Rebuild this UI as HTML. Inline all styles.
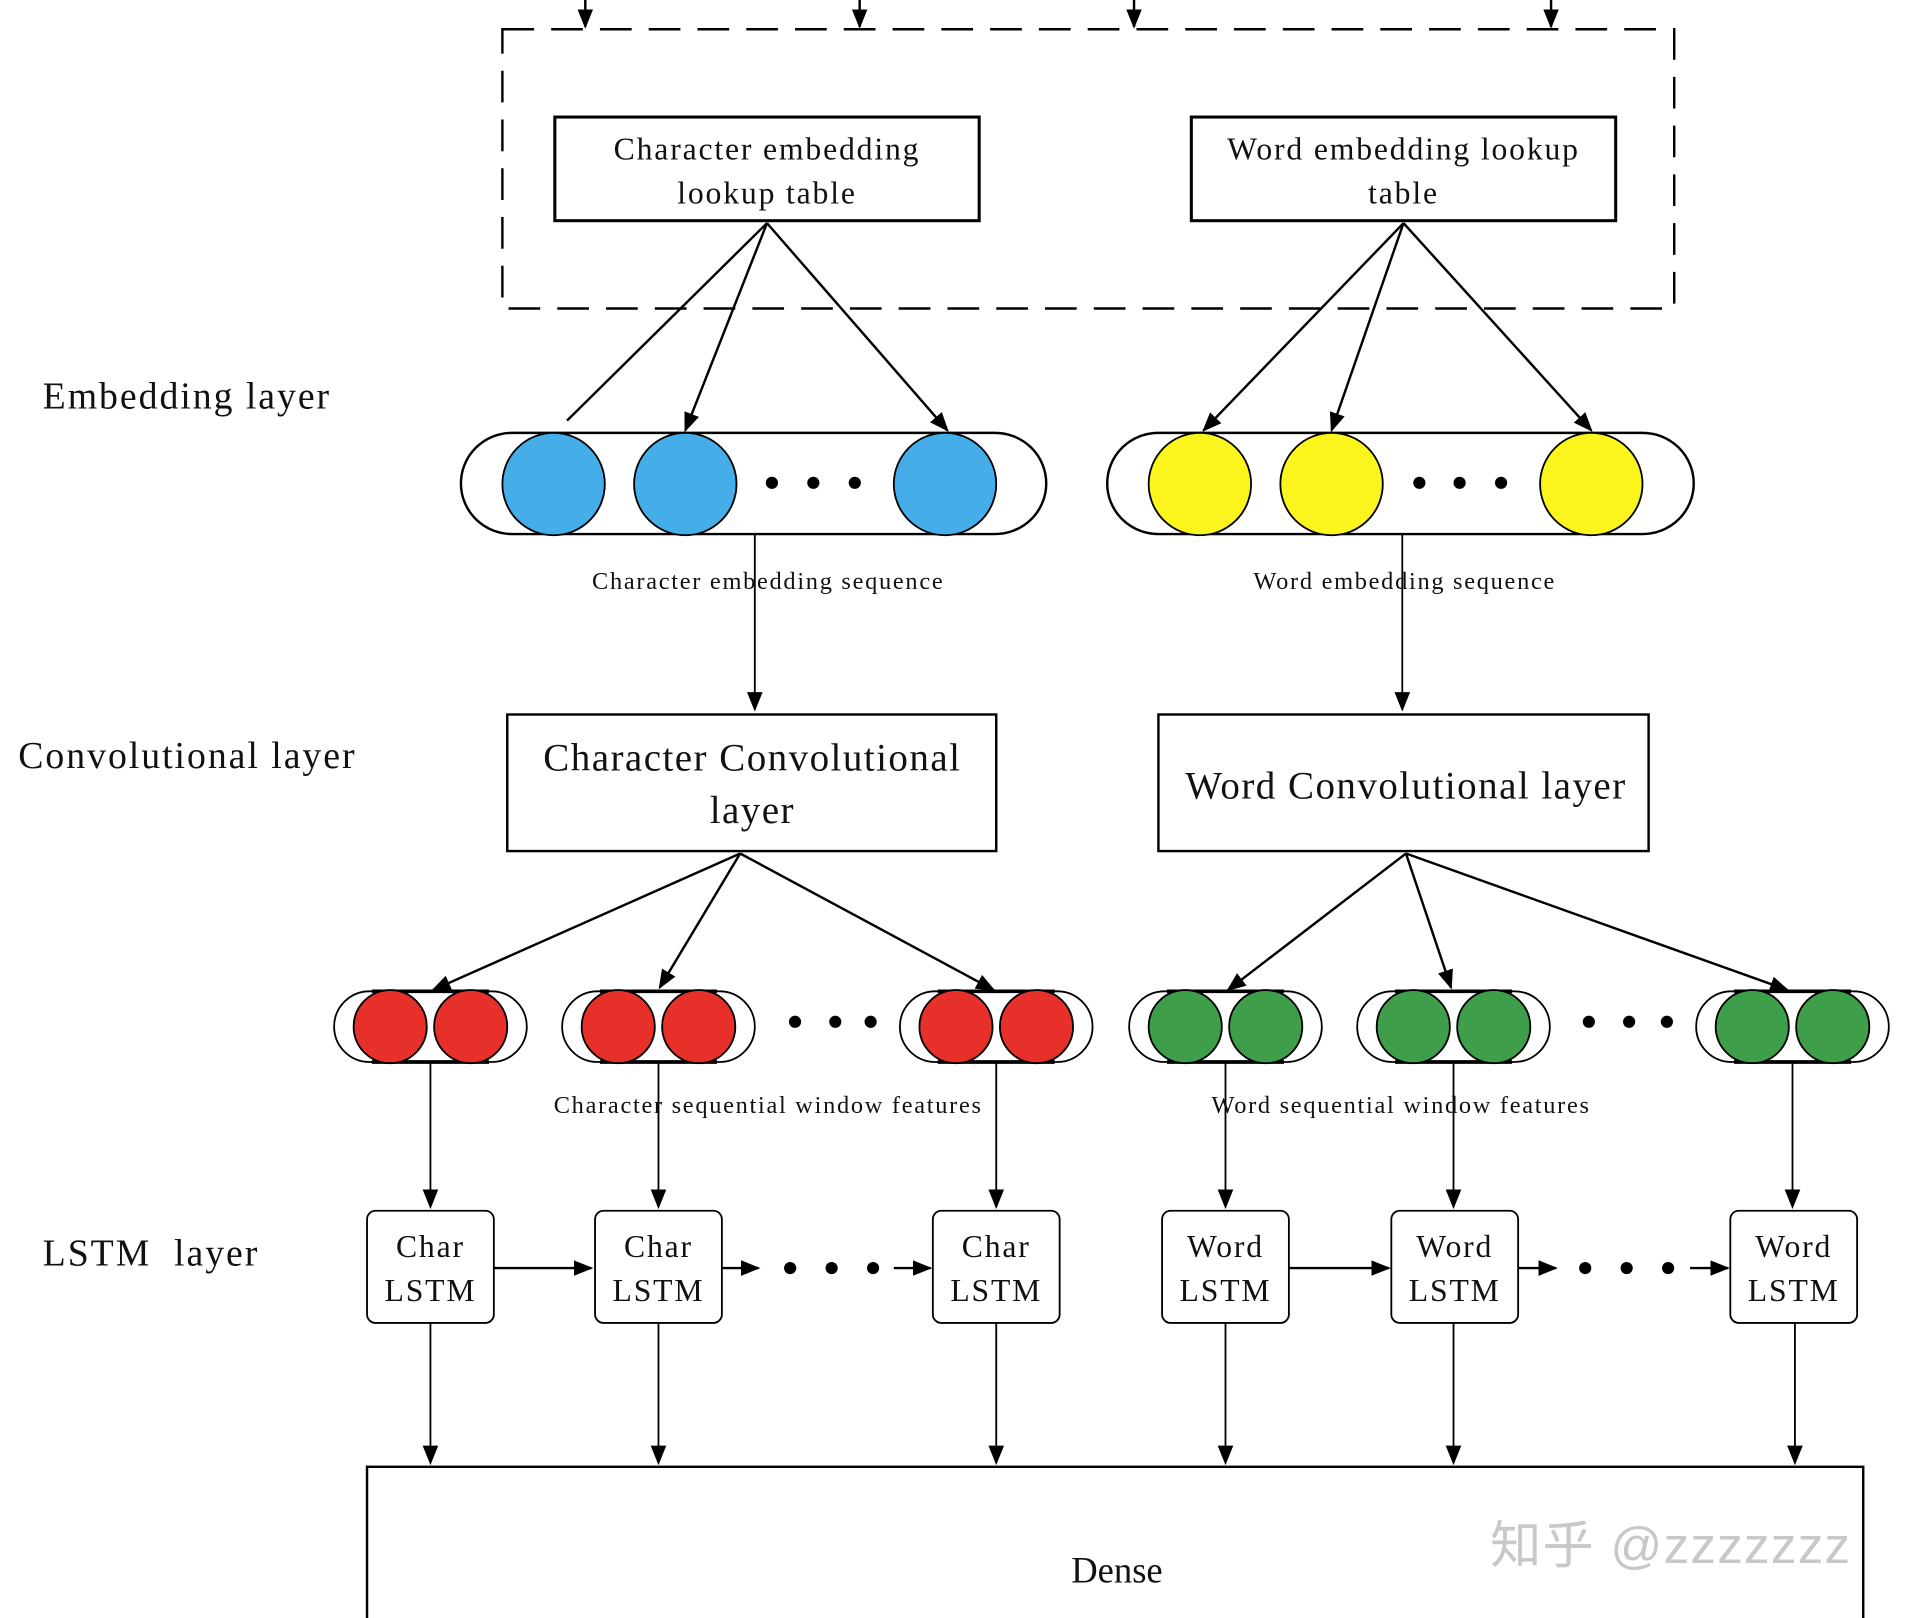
<!DOCTYPE html>
<html><head><meta charset="utf-8">
<style>
html,body{margin:0;padding:0;background:#fff;}
svg{display:block;}
text{font-family:"Liberation Serif","Noto Serif CJK SC",serif;fill:#111;}
</style></head>
<body>
<svg width="1912" height="1618" viewBox="0 0 1568 1327" preserveAspectRatio="none" xmlns="http://www.w3.org/2000/svg">
<defs>
<marker id="b" viewBox="0 0 10 10" refX="9" refY="5" markerWidth="16" markerHeight="16" orient="auto" markerUnits="userSpaceOnUse">
<path d="M0,1 L10,5 L0,9 z" fill="#000"/></marker>
</defs>
<g stroke="#000" stroke-width="2" fill="none">
<line x1="480" y1="0" x2="480" y2="22" marker-end="url(#b)"/>
<line x1="705" y1="0" x2="705" y2="22" marker-end="url(#b)"/>
<line x1="930" y1="0" x2="930" y2="22" marker-end="url(#b)"/>
<line x1="1272" y1="0" x2="1272" y2="22" marker-end="url(#b)"/>
<rect x="412" y="24" width="961" height="229" stroke-dasharray="26,14"/>
<rect x="455" y="96" width="348" height="85" stroke-width="2.5"/>
<rect x="977" y="96" width="348" height="85" stroke-width="2.5"/>
<line x1="629" y1="183" x2="465" y2="345"/>
<line x1="629" y1="183" x2="562" y2="353" marker-end="url(#b)"/>
<line x1="629" y1="183" x2="777" y2="353" marker-end="url(#b)"/>
<line x1="1151" y1="183" x2="987" y2="353" marker-end="url(#b)"/>
<line x1="1151" y1="183" x2="1092" y2="353" marker-end="url(#b)"/>
<line x1="1151" y1="183" x2="1305" y2="353" marker-end="url(#b)"/>
<rect x="378" y="355" width="480" height="83" rx="42"/>
<rect x="908" y="355" width="481" height="83" rx="42"/>
<line x1="619" y1="438" x2="619" y2="582" stroke-width="1.5" marker-end="url(#b)"/>
<line x1="1150" y1="438" x2="1150" y2="582" stroke-width="1.5" marker-end="url(#b)"/>
<rect x="416" y="586" width="401" height="112"/>
<rect x="950" y="586" width="402" height="112"/>
<line x1="607" y1="700" x2="355" y2="812" marker-end="url(#b)"/>
<line x1="607" y1="700" x2="541" y2="810" marker-end="url(#b)"/>
<line x1="607" y1="700" x2="815" y2="812" marker-end="url(#b)"/>
<line x1="1153" y1="700" x2="1007" y2="812" marker-end="url(#b)"/>
<line x1="1153" y1="700" x2="1190" y2="810" marker-end="url(#b)"/>
<line x1="1153" y1="700" x2="1466" y2="812" marker-end="url(#b)"/>
</g>
<g stroke="#000" stroke-width="1.5">
<circle cx="454" cy="397" r="42" fill="#45ade8"/>
<circle cx="562" cy="397" r="42" fill="#45ade8"/>
<circle cx="775" cy="397" r="42" fill="#45ade8"/>
<circle cx="984" cy="397" r="42" fill="#fbf51d"/>
<circle cx="1092" cy="397" r="42" fill="#fbf51d"/>
<circle cx="1305" cy="397" r="42" fill="#fbf51d"/>
</g>
<g fill="#000">
<circle cx="633" cy="396" r="5"/><circle cx="667" cy="396" r="5"/><circle cx="701" cy="396" r="5"/>
<circle cx="1164" cy="396" r="5"/><circle cx="1197" cy="396" r="5"/><circle cx="1231" cy="396" r="5"/>
<circle cx="652" cy="838" r="5"/><circle cx="685" cy="838" r="5"/><circle cx="714" cy="838" r="5"/>
<circle cx="1303" cy="838" r="5"/><circle cx="1336" cy="838" r="5"/><circle cx="1367" cy="838" r="5"/>
<circle cx="648" cy="1040" r="5"/><circle cx="682" cy="1040" r="5"/><circle cx="716" cy="1040" r="5"/>
<circle cx="1300" cy="1040" r="5"/><circle cx="1334" cy="1040" r="5"/><circle cx="1368" cy="1040" r="5"/>
</g>
<g>
<g transform="translate(353,842)"><rect x="-79" y="-29" width="158" height="58" rx="29" fill="none" stroke="#000" stroke-width="1.5"/><line x1="-48" y1="-29" x2="48" y2="-29" stroke="#000" stroke-width="3"/><line x1="-48" y1="29" x2="48" y2="29" stroke="#000" stroke-width="3"/><circle cx="-33" r="30" fill="#e8302a" stroke="#000" stroke-width="1.5"/><circle cx="33" r="30" fill="#e8302a" stroke="#000" stroke-width="1.5"/></g>
<g transform="translate(540,842)"><rect x="-79" y="-29" width="158" height="58" rx="29" fill="none" stroke="#000" stroke-width="1.5"/><line x1="-48" y1="-29" x2="48" y2="-29" stroke="#000" stroke-width="3"/><line x1="-48" y1="29" x2="48" y2="29" stroke="#000" stroke-width="3"/><circle cx="-33" r="30" fill="#e8302a" stroke="#000" stroke-width="1.5"/><circle cx="33" r="30" fill="#e8302a" stroke="#000" stroke-width="1.5"/></g>
<g transform="translate(817,842)"><rect x="-79" y="-29" width="158" height="58" rx="29" fill="none" stroke="#000" stroke-width="1.5"/><line x1="-48" y1="-29" x2="48" y2="-29" stroke="#000" stroke-width="3"/><line x1="-48" y1="29" x2="48" y2="29" stroke="#000" stroke-width="3"/><circle cx="-33" r="30" fill="#e8302a" stroke="#000" stroke-width="1.5"/><circle cx="33" r="30" fill="#e8302a" stroke="#000" stroke-width="1.5"/></g>
<g transform="translate(1005,842)"><rect x="-79" y="-29" width="158" height="58" rx="29" fill="none" stroke="#000" stroke-width="1.5"/><line x1="-48" y1="-29" x2="48" y2="-29" stroke="#000" stroke-width="3"/><line x1="-48" y1="29" x2="48" y2="29" stroke="#000" stroke-width="3"/><circle cx="-33" r="30" fill="#3e9e4a" stroke="#000" stroke-width="1.5"/><circle cx="33" r="30" fill="#3e9e4a" stroke="#000" stroke-width="1.5"/></g>
<g transform="translate(1192,842)"><rect x="-79" y="-29" width="158" height="58" rx="29" fill="none" stroke="#000" stroke-width="1.5"/><line x1="-48" y1="-29" x2="48" y2="-29" stroke="#000" stroke-width="3"/><line x1="-48" y1="29" x2="48" y2="29" stroke="#000" stroke-width="3"/><circle cx="-33" r="30" fill="#3e9e4a" stroke="#000" stroke-width="1.5"/><circle cx="33" r="30" fill="#3e9e4a" stroke="#000" stroke-width="1.5"/></g>
<g transform="translate(1470,842)"><rect x="-79" y="-29" width="158" height="58" rx="29" fill="none" stroke="#000" stroke-width="1.5"/><line x1="-48" y1="-29" x2="48" y2="-29" stroke="#000" stroke-width="3"/><line x1="-48" y1="29" x2="48" y2="29" stroke="#000" stroke-width="3"/><circle cx="-33" r="30" fill="#3e9e4a" stroke="#000" stroke-width="1.5"/><circle cx="33" r="30" fill="#3e9e4a" stroke="#000" stroke-width="1.5"/></g>
</g>
<g stroke="#000" stroke-width="1.5" fill="none">
<line x1="353" y1="871" x2="353" y2="990" marker-end="url(#b)"/>
<line x1="540" y1="871" x2="540" y2="990" marker-end="url(#b)"/>
<line x1="817" y1="871" x2="817" y2="990" marker-end="url(#b)"/>
<line x1="1005" y1="871" x2="1005" y2="990" marker-end="url(#b)"/>
<line x1="1192" y1="871" x2="1192" y2="990" marker-end="url(#b)"/>
<line x1="1470" y1="871" x2="1470" y2="990" marker-end="url(#b)"/>
<rect x="301" y="993" width="104" height="92" rx="7"/>
<rect x="488" y="993" width="104" height="92" rx="7"/>
<rect x="765" y="993" width="104" height="92" rx="7"/>
<rect x="953" y="993" width="104" height="92" rx="7"/>
<rect x="1141" y="993" width="104" height="92" rx="7"/>
<rect x="1419" y="993" width="104" height="92" rx="7"/>
<g stroke-width="2">
<line x1="405" y1="1040" x2="485" y2="1040" marker-end="url(#b)"/>
<line x1="592" y1="1040" x2="622" y2="1040" marker-end="url(#b)"/>
<line x1="733" y1="1040" x2="763" y2="1040" marker-end="url(#b)"/>
<line x1="1057" y1="1040" x2="1139" y2="1040" marker-end="url(#b)"/>
<line x1="1245" y1="1040" x2="1276" y2="1040" marker-end="url(#b)"/>
<line x1="1386" y1="1040" x2="1417" y2="1040" marker-end="url(#b)"/>
</g>
<line x1="353" y1="1085" x2="353" y2="1200" marker-end="url(#b)"/>
<line x1="540" y1="1085" x2="540" y2="1200" marker-end="url(#b)"/>
<line x1="817" y1="1085" x2="817" y2="1200" marker-end="url(#b)"/>
<line x1="1005" y1="1085" x2="1005" y2="1200" marker-end="url(#b)"/>
<line x1="1192" y1="1085" x2="1192" y2="1200" marker-end="url(#b)"/>
<line x1="1472" y1="1085" x2="1472" y2="1200" marker-end="url(#b)"/>
<rect x="301" y="1203" width="1227" height="140" stroke-width="2"/>
</g>
<g text-anchor="middle" font-size="26" letter-spacing="1.5">
<text x="629" y="131">Character embedding</text>
<text x="629" y="167">lookup table</text>
<text x="1151" y="131">Word embedding lookup</text>
<text x="1151" y="167">table</text>
</g>
<g text-anchor="middle" font-size="20" letter-spacing="1.4">
<text x="630" y="483">Character embedding sequence</text>
<text x="1152" y="483">Word embedding sequence</text>
<text x="630" y="913">Character sequential window features</text>
<text x="1149" y="913">Word sequential window features</text>
</g>
<g text-anchor="middle" font-size="32" letter-spacing="1.2">
<text x="617" y="632">Character Convolutional</text>
<text x="617" y="675">layer</text>
<text x="1153" y="655">Word Convolutional layer</text>
</g>
<g text-anchor="middle" font-size="26" letter-spacing="1.5">
<text x="353" y="1031">Char</text><text x="353" y="1067">LSTM</text>
<text x="540" y="1031">Char</text><text x="540" y="1067">LSTM</text>
<text x="817" y="1031">Char</text><text x="817" y="1067">LSTM</text>
<text x="1005" y="1031">Word</text><text x="1005" y="1067">LSTM</text>
<text x="1193" y="1031">Word</text><text x="1193" y="1067">LSTM</text>
<text x="1471" y="1031">Word</text><text x="1471" y="1067">LSTM</text>
</g>
<g font-size="31" letter-spacing="1.6">
<text x="35" y="335">Embedding layer</text>
<text x="15" y="630">Convolutional layer</text>
<text x="35" y="1038" xml:space="preserve">LSTM  layer</text>
</g>
<text x="916" y="1298" text-anchor="middle" font-size="30">Dense</text>
<text x="1222" y="1282" font-size="42" letter-spacing="1" style="font-family:'Liberation Sans','Noto Sans CJK SC',sans-serif;fill:#c8c8c8">知乎 @zzzzzzz</text>
</svg>
</body></html>
